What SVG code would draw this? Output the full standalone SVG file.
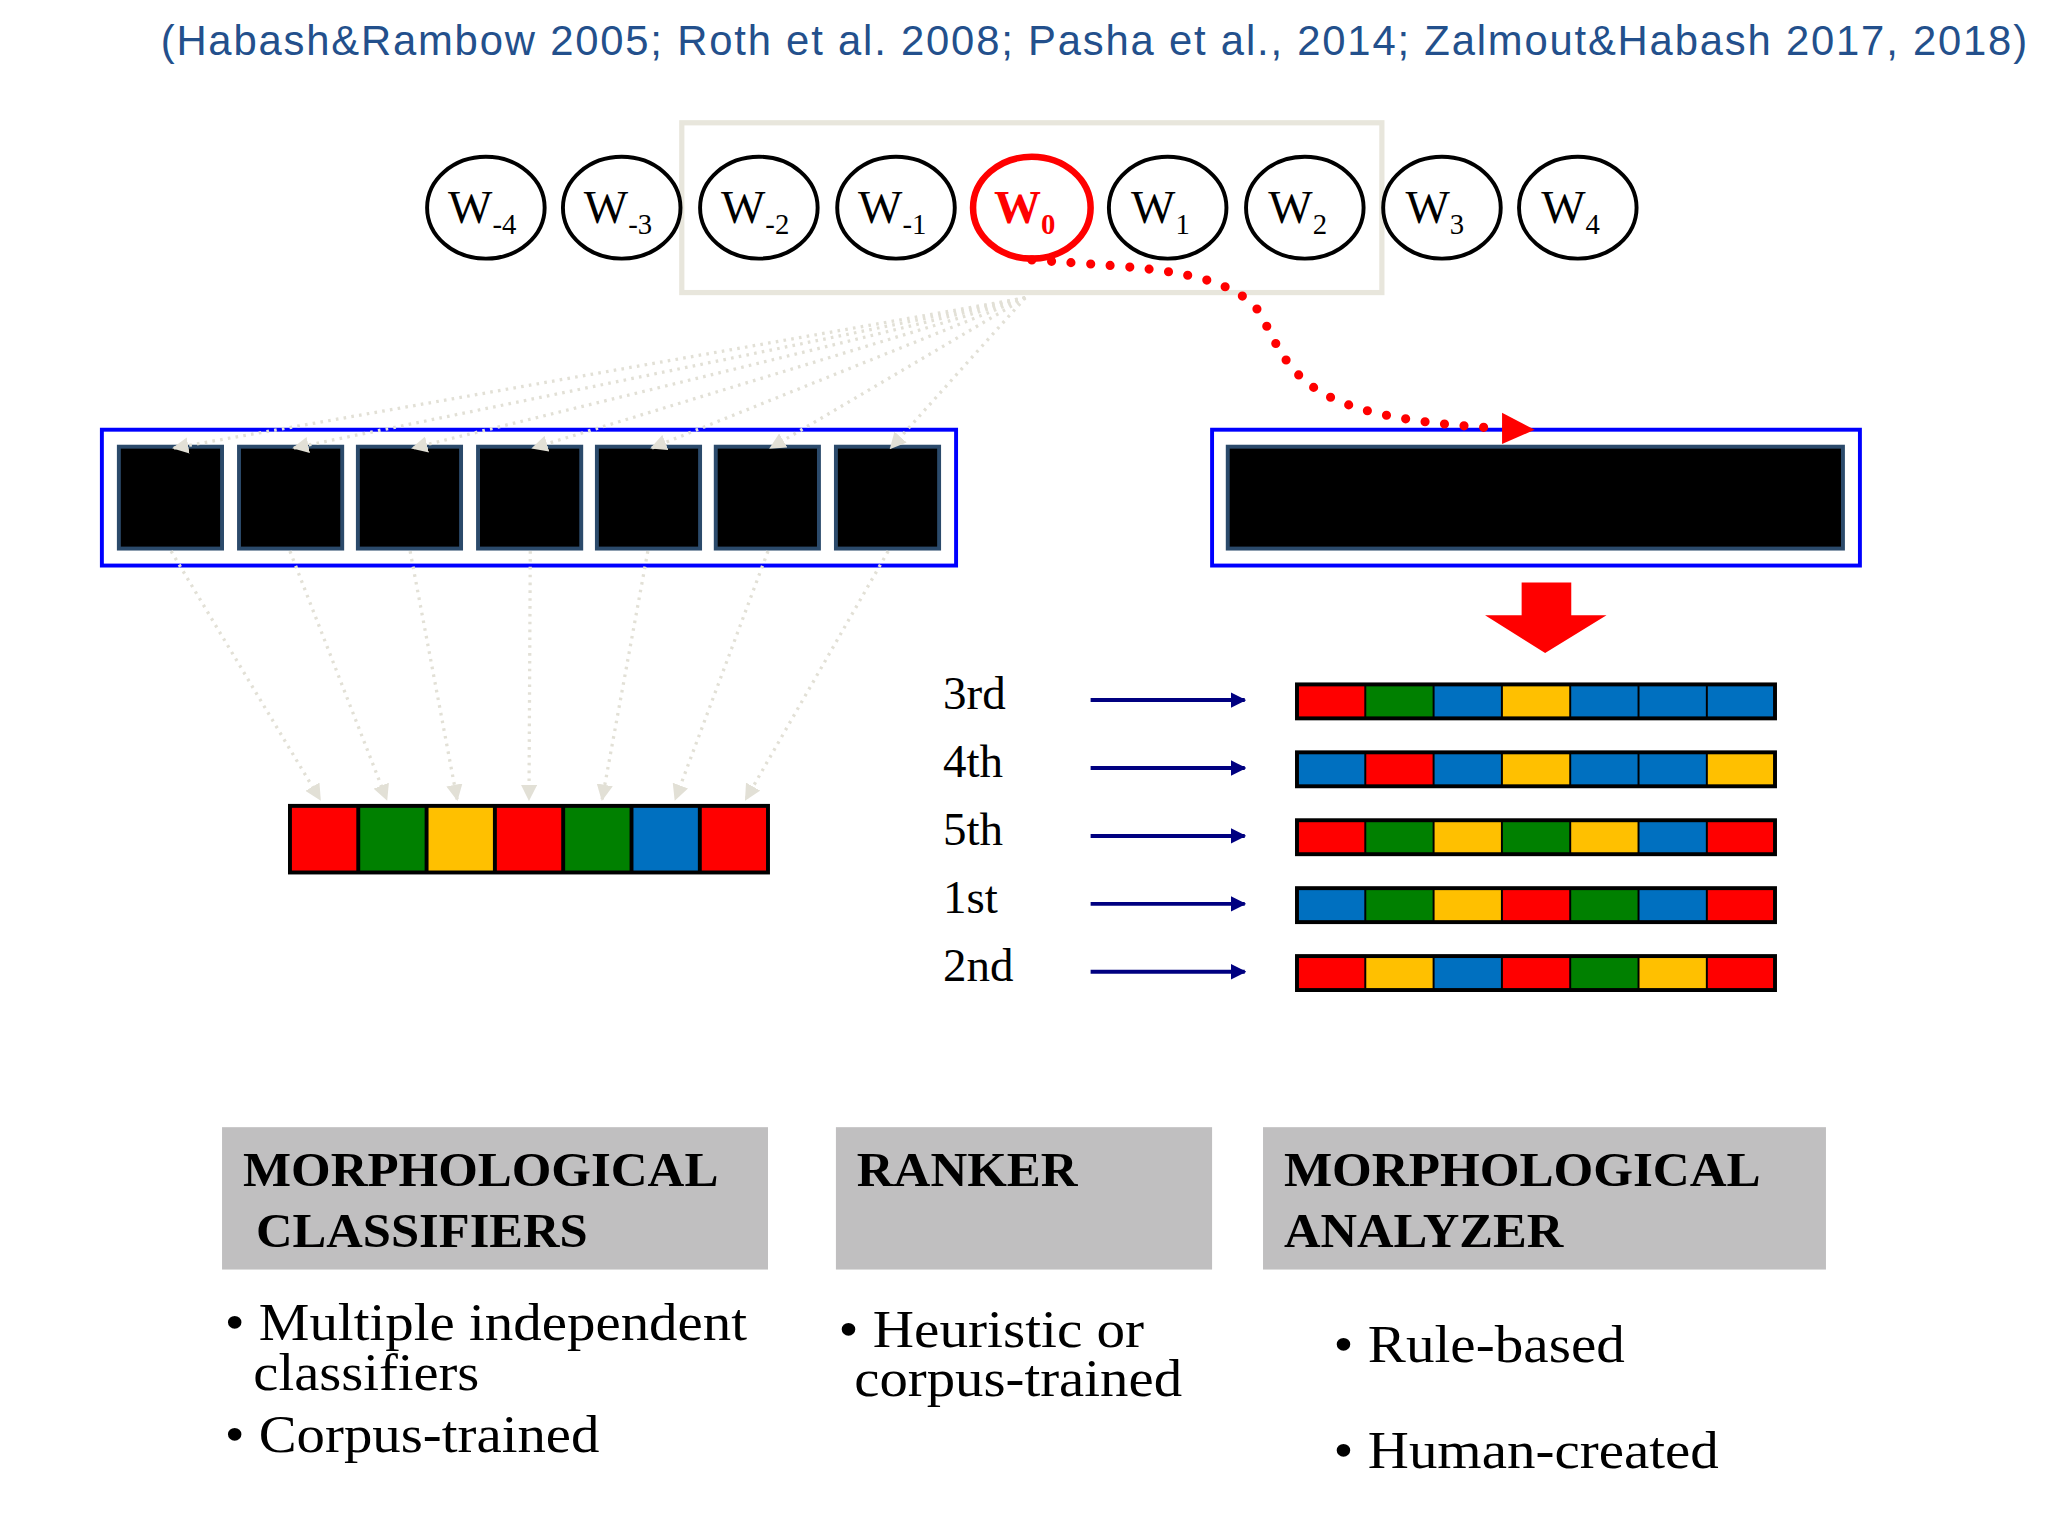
<svg xmlns="http://www.w3.org/2000/svg" width="2048" height="1536" viewBox="0 0 2048 1536">
<style>
.w{fill:#fff;stroke:#000;stroke-width:3}
.wt{font-family:"Liberation Serif",serif;font-size:36px}
.sub{font-size:22px}
.dl{stroke:#e2e0d6;stroke-width:2.5;stroke-dasharray:2 4;fill:none}
.sq{fill:#000;stroke:#2b4a6b;stroke-width:3}
.bb{fill:none;stroke:#0000ff;stroke-width:3}
.R{fill:#ff0000}.G{fill:#008000}.Y{fill:#ffc000}.B{fill:#0070c0}
.lab{font-family:"Liberation Serif",serif;font-size:36px}
.hd{font-family:"Liberation Serif",serif;font-size:37px;font-weight:bold}
.bl{font-family:"Liberation Serif",serif;font-size:41px}
.gr{fill:#c0bfc0}
.nav{stroke:#000080;stroke-width:3}
</style>
<defs>
<marker id="ga" viewBox="0 0 10 10" refX="9" refY="5" markerWidth="5" markerHeight="5" orient="auto"><path d="M0,0L10,5L0,10z" fill="#e2e0d6"/></marker>
<marker id="na" viewBox="0 0 10 10" refX="9" refY="5" markerWidth="4" markerHeight="4" orient="auto"><path d="M0,0L10,5L0,10z" fill="#000080"/></marker>
</defs>
<rect width="2048" height="1536" fill="#fff"/>
<g transform="scale(1.30612)">
<text x="123" y="42" font-family="Liberation Sans,sans-serif" font-size="32" fill="#23508c" textLength="1429">(Habash&amp;Rambow 2005; Roth et al. 2008; Pasha et al., 2014; Zalmout&amp;Habash 2017, 2018)</text>
<g id="window"><rect x="522" y="94" width="536" height="130" fill="none" stroke="#e8e6dc" stroke-width="4"/></g>
<g id="words">
<g id="wm4"><ellipse class="w" cx="372" cy="159" rx="45" ry="39"/><text class="wt" x="343" y="171">W<tspan class="sub" dy="8">-4</tspan></text></g>
<g id="wm3"><ellipse class="w" cx="476" cy="159" rx="45" ry="39"/><text class="wt" x="447" y="171">W<tspan class="sub" dy="8">-3</tspan></text></g>
<g id="wm2"><ellipse class="w" cx="581" cy="159" rx="45" ry="39"/><text class="wt" x="552" y="171">W<tspan class="sub" dy="8">-2</tspan></text></g>
<g id="wm1"><ellipse class="w" cx="686" cy="159" rx="45" ry="39"/><text class="wt" x="657" y="171">W<tspan class="sub" dy="8">-1</tspan></text></g>
<g id="w0"><ellipse cx="790" cy="159" rx="45" ry="39" fill="#fff" stroke="#ff0000" stroke-width="5"/><text class="wt" x="761" y="171" fill="#ff0000" font-weight="bold">W<tspan class="sub" dy="8">0</tspan></text></g>
<g id="w1"><ellipse class="w" cx="894" cy="159" rx="45" ry="39"/><text class="wt" x="866" y="171">W<tspan class="sub" dy="8">1</tspan></text></g>
<g id="w2"><ellipse class="w" cx="999" cy="159" rx="45" ry="39"/><text class="wt" x="971" y="171">W<tspan class="sub" dy="8">2</tspan></text></g>
<g id="w3"><ellipse class="w" cx="1104" cy="159" rx="45" ry="39"/><text class="wt" x="1076" y="171">W<tspan class="sub" dy="8">3</tspan></text></g>
<g id="w4"><ellipse class="w" cx="1208" cy="159" rx="45" ry="39"/><text class="wt" x="1180" y="171">W<tspan class="sub" dy="8">4</tspan></text></g>
</g>
<g id="classifiers">
<rect class="bb" x="78" y="329" width="654" height="104"/>
<rect class="sq" x="91" y="342" width="79" height="78"/>
<rect class="sq" x="183" y="342" width="79" height="78"/>
<rect class="sq" x="274" y="342" width="79" height="78"/>
<rect class="sq" x="366" y="342" width="79" height="78"/>
<rect class="sq" x="457" y="342" width="79" height="78"/>
<rect class="sq" x="548" y="342" width="79" height="78"/>
<rect class="sq" x="640" y="342" width="79" height="78"/>
</g>
<g id="analyzer">
<rect class="bb" x="928" y="329" width="496" height="104"/>
<rect class="sq" x="940" y="342" width="471" height="78"/>
</g>
<g id="out-left">
<rect class="R" x="222" y="617" width="52.3" height="51"/><rect class="G" x="274.3" y="617" width="52.3" height="51"/><rect class="Y" x="326.6" y="617" width="52.3" height="51"/><rect class="R" x="378.9" y="617" width="52.3" height="51"/><rect class="G" x="431.2" y="617" width="52.3" height="51"/><rect class="B" x="483.5" y="617" width="52.3" height="51"/><rect class="R" x="535.8" y="617" width="52.3" height="51"/>
<g fill="none" stroke="#000" stroke-width="3"><rect x="222" y="617" width="366" height="51"/><path d="M274.3,617v51M326.6,617v51M378.9,617v51M431.2,617v51M483.5,617v51M535.8,617v51"/></g>
</g>
<g id="ranks">
<g id="r3"><text class="lab" x="722" y="543">3rd</text>
<rect class="R" x="993" y="524" width="52.3" height="26"/><rect class="G" x="1045.3" y="524" width="52.3" height="26"/><rect class="B" x="1097.6" y="524" width="52.3" height="26"/><rect class="Y" x="1149.9" y="524" width="52.3" height="26"/><rect class="B" x="1202.2" y="524" width="52.3" height="26"/><rect class="B" x="1254.5" y="524" width="52.3" height="26"/><rect class="B" x="1306.8" y="524" width="52.3" height="26"/></g>
<g id="r4"><text class="lab" x="722" y="595">4th</text>
<rect class="B" x="993" y="576" width="52.3" height="26"/><rect class="R" x="1045.3" y="576" width="52.3" height="26"/><rect class="B" x="1097.6" y="576" width="52.3" height="26"/><rect class="Y" x="1149.9" y="576" width="52.3" height="26"/><rect class="B" x="1202.2" y="576" width="52.3" height="26"/><rect class="B" x="1254.5" y="576" width="52.3" height="26"/><rect class="Y" x="1306.8" y="576" width="52.3" height="26"/></g>
<g id="r5"><text class="lab" x="722" y="647">5th</text>
<rect class="R" x="993" y="628" width="52.3" height="26"/><rect class="G" x="1045.3" y="628" width="52.3" height="26"/><rect class="Y" x="1097.6" y="628" width="52.3" height="26"/><rect class="G" x="1149.9" y="628" width="52.3" height="26"/><rect class="Y" x="1202.2" y="628" width="52.3" height="26"/><rect class="B" x="1254.5" y="628" width="52.3" height="26"/><rect class="R" x="1306.8" y="628" width="52.3" height="26"/></g>
<g id="r1"><text class="lab" x="722" y="699">1st</text>
<rect class="B" x="993" y="680" width="52.3" height="26"/><rect class="G" x="1045.3" y="680" width="52.3" height="26"/><rect class="Y" x="1097.6" y="680" width="52.3" height="26"/><rect class="R" x="1149.9" y="680" width="52.3" height="26"/><rect class="G" x="1202.2" y="680" width="52.3" height="26"/><rect class="B" x="1254.5" y="680" width="52.3" height="26"/><rect class="R" x="1306.8" y="680" width="52.3" height="26"/></g>
<g id="r2"><text class="lab" x="722" y="751">2nd</text>
<rect class="R" x="993" y="732" width="52.3" height="26"/><rect class="Y" x="1045.3" y="732" width="52.3" height="26"/><rect class="B" x="1097.6" y="732" width="52.3" height="26"/><rect class="R" x="1149.9" y="732" width="52.3" height="26"/><rect class="G" x="1202.2" y="732" width="52.3" height="26"/><rect class="Y" x="1254.5" y="732" width="52.3" height="26"/><rect class="R" x="1306.8" y="732" width="52.3" height="26"/></g>
<g fill="none" stroke="#000" stroke-width="3">
<rect x="993" y="524" width="366" height="26"/><rect x="993" y="576" width="366" height="26"/><rect x="993" y="628" width="366" height="26"/><rect x="993" y="680" width="366" height="26"/><rect x="993" y="732" width="366" height="26"/>
<path stroke-width="1.5" d="M1045.3,524v26M1097.6,524v26M1149.9,524v26M1202.2,524v26M1254.5,524v26M1306.8,524v26M1045.3,576v26M1097.6,576v26M1149.9,576v26M1202.2,576v26M1254.5,576v26M1306.8,576v26M1045.3,628v26M1097.6,628v26M1149.9,628v26M1202.2,628v26M1254.5,628v26M1306.8,628v26M1045.3,680v26M1097.6,680v26M1149.9,680v26M1202.2,680v26M1254.5,680v26M1306.8,680v26M1045.3,732v26M1097.6,732v26M1149.9,732v26M1202.2,732v26M1254.5,732v26M1306.8,732v26"/>
</g>
</g>
<g id="connectors">
<g class="dl" marker-end="url(#ga)">
<path d="M785,228L133,343"/><path d="M785,228L225,343"/><path d="M785,228L316,343"/><path d="M785,228L408,343"/><path d="M785,228L499,343"/><path d="M785,228L590,343"/><path d="M785,228L682,343"/>
<path d="M131,422L245,612"/><path d="M222,422L296,612"/><path d="M314,422L350,612"/><path d="M406,422L405,612"/><path d="M496,422L461,612"/><path d="M588,422L517,612"/><path d="M680,422L571,612"/>
</g>
<path d="M790,199C870,205 940,205 965,240C990,290 1000,320 1150,328" fill="none" stroke="#ff0000" stroke-width="7" stroke-dasharray="0 15" stroke-linecap="round"/>
<path d="M1150,316L1175,329L1150,340z" fill="#ff0000"/>
<path d="M1165,446h38v25h27l-47,29l-46,-29h28z" fill="#ff0000"/>
<g class="nav" marker-end="url(#na)">
<path d="M835,536H953"/><path d="M835,588H953"/><path d="M835,640H953"/><path d="M835,692H953"/><path d="M835,744H953"/>
</g>
</g>
<g id="h1"><rect class="gr" x="170" y="863" width="418" height="109"/><text class="hd" x="186" y="908" textLength="364" lengthAdjust="spacingAndGlyphs">MORPHOLOGICAL</text><text class="hd" x="196" y="955" textLength="254" lengthAdjust="spacingAndGlyphs">CLASSIFIERS</text></g>
<g id="h2"><rect class="gr" x="640" y="863" width="288" height="109"/><text class="hd" x="656" y="908" textLength="169" lengthAdjust="spacingAndGlyphs">RANKER</text></g>
<g id="h3"><rect class="gr" x="967" y="863" width="431" height="109"/><text class="hd" x="983" y="908" textLength="365" lengthAdjust="spacingAndGlyphs">MORPHOLOGICAL</text><text class="hd" x="983" y="955" textLength="214" lengthAdjust="spacingAndGlyphs">ANALYZER</text></g>
<g id="b1"><text class="bl" x="172" y="1026" textLength="400" lengthAdjust="spacingAndGlyphs">• Multiple independent</text><text class="bl" x="194" y="1064" textLength="173" lengthAdjust="spacingAndGlyphs">classifiers</text><text class="bl" x="172" y="1112" textLength="287" lengthAdjust="spacingAndGlyphs">• Corpus-trained</text></g>
<g id="b2"><text class="bl" x="642" y="1031" textLength="234" lengthAdjust="spacingAndGlyphs">• Heuristic or</text><text class="bl" x="654" y="1069" textLength="251" lengthAdjust="spacingAndGlyphs">corpus-trained</text></g>
<g id="b3"><text class="bl" x="1021" y="1043" textLength="223" lengthAdjust="spacingAndGlyphs">• Rule-based</text><text class="bl" x="1021" y="1124" textLength="295" lengthAdjust="spacingAndGlyphs">• Human-created</text></g>
</g>
</svg>
